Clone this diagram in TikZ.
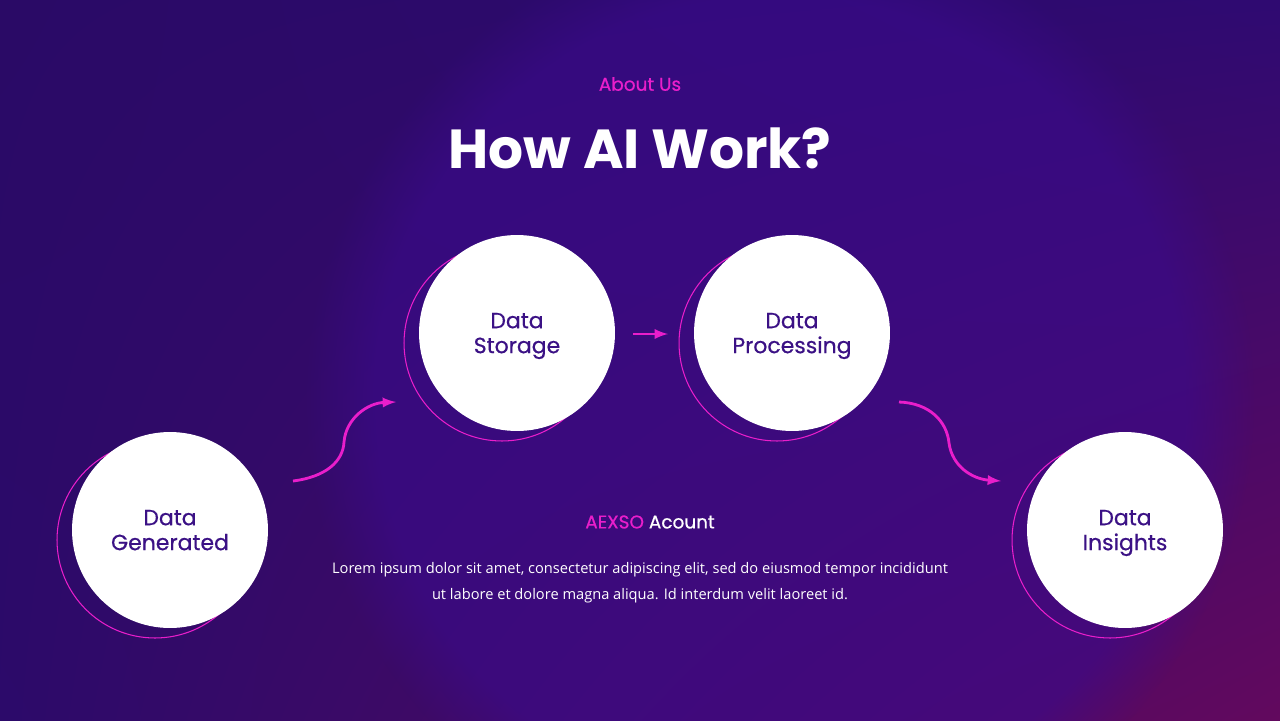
\documentclass[tikz,border=0pt]{standalone}
\usepackage{fontspec}
\setmainfont{Poppins}
\newfontfamily\medfont{Poppins}[FakeBold=0.6]
\newfontfamily\bodyfont{Open Sans}
\usetikzlibrary{calc,fadings,shadings}

\definecolor{bgDark}{HTML}{2A0A66}
\definecolor{bgMid}{HTML}{3A0A8C}
\definecolor{bgRose}{HTML}{62095E}
\definecolor{accent}{HTML}{E91ECB}
\definecolor{stepText}{HTML}{3B1185}

% last line of a label: no descender depth
\newcommand\flatline[1]{\raisebox{0pt}[\height][0pt]{#1}}

\tikzset{
  stepcircle/.style={circle, fill=white, minimum size=3.92cm, inner sep=0pt,
    align=center, text=stepText, font=\medfont\fontsize{12.5}{14.2}\selectfont},
  ring/.style={accent, line width=0.6pt},
  flow/.style={accent, line width=1.6pt, ->, >=latex},
}

\begin{document}
\begin{tikzpicture}[x=0.02cm, y=-0.02cm]
    % Frame
    \useasboundingbox (0,0) rectangle (1280,720);
    \shade[upper left=bgDark, upper right=bgDark!70!bgMid, lower left=bgDark!90!bgMid, lower right=bgRose]
      (0,0) rectangle (1280,720);
    \fill[bgMid, path fading=circle with fuzzy edge 15 percent, fill opacity=0.6]
      (780,400) circle (9.5cm);

    % Heading
    \node[text=accent, font=\medfont\fontsize{10.5}{12}\selectfont] (about) at (640,84) {About Us};
    \node[text=white, font=\fontsize{31.3}{36}\bfseries\selectfont] (title) at (640,148) {How AI Work?};

    % Step centres
    \coordinate (cGen) at (170,530);
    \coordinate (cSto) at (517,333);
    \coordinate (cPro) at (792,333);
    \coordinate (cIns) at (1125,530);

    % Rings behind the circles
    \foreach \c in {cGen,cSto,cPro,cIns}
      \draw[ring] ($(\c)+(-15,10)$) circle (1.96cm);

    % Steps
    \node[stepcircle] (gen) at (cGen) {Data\\\flatline{Generated}};
    \node[stepcircle] (sto) at (cSto) {Data\\\flatline{Storage}};
    \node[stepcircle] (pro) at (cPro) {Data\\\flatline{Processing}};
    \node[stepcircle] (ins) at (cIns) {Data\\\flatline{Insights}};

    % Arrow ends
    \coordinate (a1s) at (293,481);
    \coordinate (a1e) at (396,402);
    \coordinate (a2s) at (633,334);
    \coordinate (a2e) at (668,334);
    \coordinate (a3s) at (899,402);
    \coordinate (a3e) at (1001,481);

    % Arrows
    \draw[flow] (a1s) .. controls (325,477) and (343,462) .. (344,442)
      .. controls (346,418) and (368,403) .. (a1e);
    \draw[flow] (a2s) -- (a2e);
    \draw[flow] (a3s) .. controls (930,403) and (947,422) .. (949,443)
      .. controls (952,466) and (972,479) .. (a3e);

    % Caption
    \node[font=\medfont\fontsize{10.5}{12}\selectfont] (brand) at (650,522)
      {\textcolor{accent}{AEXSO} \textcolor{white}{Acount}};
    \node[text=white, align=center, font=\bodyfont\fontsize{8.33}{14.7}\selectfont] (body) at (640,583)
      {Lorem ipsum dolor sit amet, consectetur adipiscing elit, sed do eiusmod tempor incididunt\\
       ut labore et dolore magna aliqua. Id interdum velit laoreet id.};
\end{tikzpicture}
\end{document}
